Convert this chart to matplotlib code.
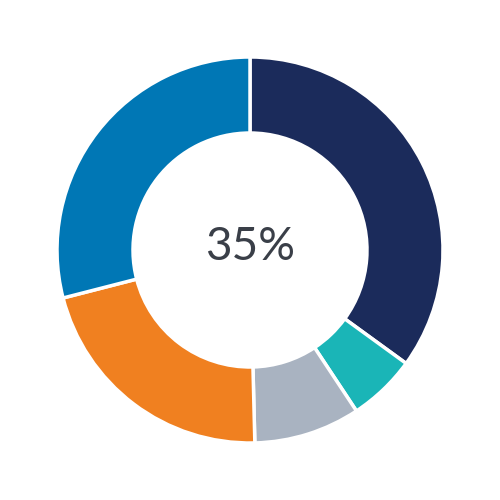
import matplotlib.pyplot as plt

# 各部分占比（顺时针，从顶部开始）
labels = ['A', 'B', 'C', 'D', 'E']
values = [35, 5.7, 8.9, 21.4, 29.0]
colors = ['#1b2b5b', '#1ab5b7', '#a9b3c1', '#f08020', '#0077b5']
center_text = '35%'

fig, ax = plt.subplots(figsize=(5, 5), dpi=100)
fig.subplots_adjust(left=0, right=1, top=1, bottom=0)

ax.pie(values, colors=colors, startangle=90, counterclock=False,
       radius=0.772,
       wedgeprops=dict(width=0.304, edgecolor='white', linewidth=2.5))

ax.text(0, 0.01, center_text, ha='center', va='center', fontsize=33,
        color='#3a3f48', family=['Lato', 'DejaVu Sans'], fontweight='normal')

ax.set_xlim(-1, 1)
ax.set_ylim(-1, 1)
ax.set_aspect('equal')
ax.axis('off')

plt.savefig('out.png', dpi=100)
plt.close()
